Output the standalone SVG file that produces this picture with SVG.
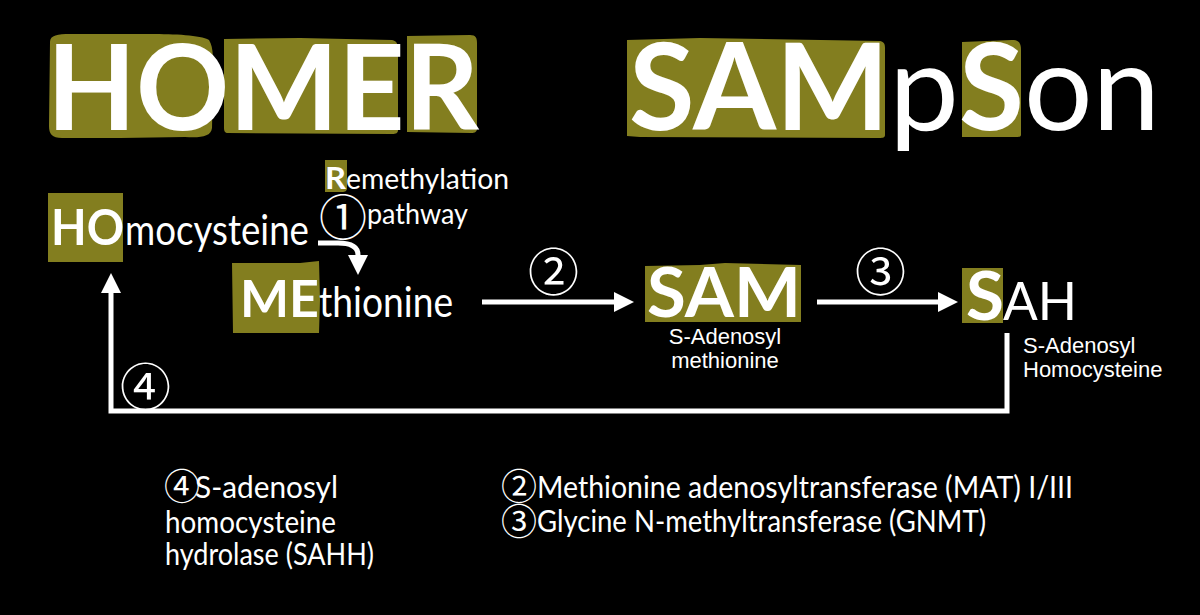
<svg xmlns="http://www.w3.org/2000/svg" width="1200" height="615" viewBox="0 0 1200 615">
<style>
.t{fill:#fff;font-family:Lato,"Open Sans","Noto Sans",sans-serif}
.b{font-weight:bold}
.hl{fill:#837e1f}
.ar{fill:#fff;font-family:"Liberation Sans",Arial,sans-serif;font-size:22px}
.c{font-family:"Noto Sans CJK JP","Noto Sans CJK SC",sans-serif;font-weight:normal}
.ln{stroke:#fff;stroke-width:5;fill:none}
</style>
<defs>
<marker id="ah" viewBox="0 0 10 10" refX="0" refY="5" markerWidth="4" markerHeight="4" orient="auto" markerUnits="strokeWidth">
<path d="M0,0 L10,5 L0,10 Z" fill="#fff"/>
</marker>
</defs>
<rect width="1200" height="615" fill="#000"/>

<g id="title-homer">
<path class="hl" d="M50,42 C50,35 58,34 70,34 L150,34 C175,34 200,35 209,40 C214,48 213,60 213,80 L212,128 C211,137 200,138 185,137 L120,138 L62,138 C52,138 49,134 49,126 Z"/>
<path class="hl" d="M224,39 L300,38 L392,40 C397,41 398,44 398,50 L398,130 C398,133 396,134 392,134 L228,133 C225,133 224,131 224,128 Z"/>
<path class="hl" d="M407,36 L470,35 C476,35 477,38 477,44 L477,128 C477,132 475,133 471,133 L407,132 Z"/>
<text class="t b" x="47" y="130" font-size="118" textLength="432" lengthAdjust="spacingAndGlyphs">HOMER</text>
</g>

<g id="title-sampson">
<path class="hl" d="M627,40 L700,38 L880,41 C885,42 885,45 885,50 L885,135 C885,138 882,138 878,138 L640,137 L627,136 Z"/>
<path class="hl" d="M962,42 L1012,40 C1019,40 1021,43 1021,50 L1021,135 C1021,137 1018,137 1015,137 L962,137 Z"/>
<text class="t" y="130" font-size="120"><tspan class="b" x="629" textLength="260" lengthAdjust="spacingAndGlyphs">SAM</tspan><tspan x="889" textLength="70" lengthAdjust="spacingAndGlyphs">p</tspan><tspan class="b" x="959" textLength="65" lengthAdjust="spacingAndGlyphs">S</tspan><tspan x="1024" textLength="136" lengthAdjust="spacingAndGlyphs">on</tspan></text>
</g>

<g id="homocysteine">
<rect class="hl" x="48" y="193" width="75" height="69"/>
<text class="t" y="245"><tspan class="b" x="51" font-size="50" textLength="73" lengthAdjust="spacingAndGlyphs">HO</tspan><tspan x="125" font-size="42" textLength="184" lengthAdjust="spacingAndGlyphs">mocysteine</tspan></text>
</g>

<g id="remethylation">
<path class="hl" d="M325,160 L347,160 L347,188 C347,191 345,192 342,192 L325,192 Z"/>
<text class="t" y="189"><tspan class="b" x="325" font-size="31" textLength="21" lengthAdjust="spacingAndGlyphs">R</tspan><tspan x="346" font-size="29" textLength="163" lengthAdjust="spacingAndGlyphs">emethylation</tspan></text>
<text class="t" y="224"><tspan class="c" x="319" y="235" font-size="48">①</tspan> <tspan x="367" y="224" font-size="28" textLength="101" lengthAdjust="spacingAndGlyphs">pathway</tspan></text>
</g>

<g id="methionine">
<path class="hl" d="M232,263 L300,263 L319,261 L320,300 L319,333 L233,333 Z"/>
<text class="t" y="317"><tspan class="b" x="240" font-size="51" textLength="79" lengthAdjust="spacingAndGlyphs">ME</tspan><tspan x="319" font-size="42" textLength="134" lengthAdjust="spacingAndGlyphs">thionine</tspan></text>
</g>

<g id="sam">
<path class="hl" d="M645,266 L700,265 L725,263 L801,265 L801,322 L645,322 Z"/>
<text class="t b" x="647" y="317" font-size="68" textLength="154" lengthAdjust="spacingAndGlyphs">SAM</text>
<text class="ar" x="725" y="344" text-anchor="middle">S-Adenosyl</text>
<text class="ar" x="725" y="368" text-anchor="middle">methionine</text>
</g>

<g id="sah">
<rect class="hl" x="962" y="268" width="41" height="55"/>
<text class="t" y="320"><tspan class="b" x="966" font-size="66" textLength="38" lengthAdjust="spacingAndGlyphs">S</tspan><tspan x="1003" font-size="52" textLength="74" lengthAdjust="spacingAndGlyphs">AH</tspan></text>
<text class="ar" x="1023" y="353">S-Adenosyl</text>
<text class="ar" x="1023" y="377">Homocysteine</text>
</g>

<g id="connectors">
<path class="ln" d="M318,243 L338,243 Q358,243 358,255" marker-end="url(#ah)"/>
<path class="ln" d="M482,302 L614,302" marker-end="url(#ah)"/>
<path class="ln" d="M817,302 L938,302" marker-end="url(#ah)"/>
<path class="ln" d="M1007,333 L1007,411 L111,411 L111,293" marker-end="url(#ah)"/>
<text class="t c" x="528" y="291" font-size="51">②</text>
<text class="t c" x="855" y="291" font-size="51">③</text>
<text class="t c" x="120" y="406" font-size="51">④</text>
</g>

<g id="legend-left">
<text class="t" font-size="30"><tspan class="c" x="164" y="500" font-size="36">④</tspan> <tspan x="195" y="498" textLength="143" lengthAdjust="spacingAndGlyphs">S-adenosyl</tspan><tspan x="165" y="533" textLength="171" lengthAdjust="spacingAndGlyphs">homocysteine</tspan><tspan x="165" y="565" textLength="209" lengthAdjust="spacingAndGlyphs">hydrolase (SAHH)</tspan></text>
</g>

<g id="legend-right">
<text class="t" font-size="30"><tspan class="c" x="501" y="500" font-size="36">②</tspan> <tspan x="537" y="498" textLength="536" lengthAdjust="spacingAndGlyphs">Methionine adenosyltransferase (MAT) I/III</tspan></text>
<text class="t" font-size="30"><tspan class="c" x="501" y="535" font-size="36">③</tspan> <tspan x="537" y="532" textLength="449" lengthAdjust="spacingAndGlyphs">Glycine N-methyltransferase (GNMT)</tspan></text>
</g>
</svg>
